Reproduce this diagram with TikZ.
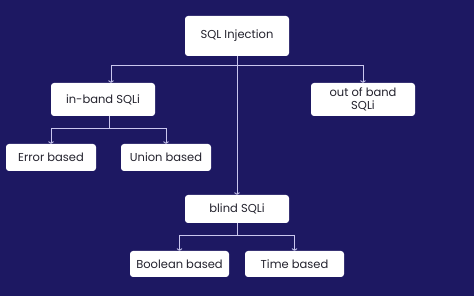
\documentclass[tikz,border=0pt]{standalone}
\usepackage{fontspec}
\setmainfont{Poppins}
\usetikzlibrary{arrows.meta}
\definecolor{sqbg}{HTML}{1D1862}
\definecolor{sqbox}{HTML}{FFFFFF}
\definecolor{sqink}{HTML}{24232E}
\definecolor{sqline}{HTML}{C9C6EE}
\tikzset{
  box/.style={rectangle,rounded corners=3pt,fill=sqbox,text=sqink,font=\fontsize{11.5}{13}\selectfont,align=center,inner sep=0pt},
  wide/.style={box,minimum width=104pt},
  small/.style={box,minimum width=90pt,minimum height=27pt},
  leaf/.style={box,minimum width=99pt,minimum height=26pt},
  link/.style={draw=sqline,line width=.9pt},
  arr/.style={link,-{To[length=2.5pt,width=5.5pt]}},
}

\begin{document}
\begin{tikzpicture}[x=1pt,y=-1pt]
  \fill[sqbg] (0,0) rectangle (474,296);
  \node[wide,minimum height=40pt] (root) at (237,36) {SQL Injection};
  \node[wide,minimum height=33pt] (inband) at (103,99.5) {in-band SQLi};
  \node[wide,minimum height=33pt] (outband) at (363,99.5) {out of band\\SQLi};
  \node[small] (error) at (51,157.5) {Error based};
  \node[small] (union) at (166,157.5) {Union based};
  \node[wide,minimum height=28pt] (blind) at (237,209) {blind SQLi};
  \node[leaf] (boolean) at (179.5,264) {Boolean based};
  \node[leaf] (time) at (294.5,264) {Time based};
  \coordinate (rootL) at (111,65);
  \coordinate (rootR) at (363,65);
  \coordinate (ibstem) at (109,128);
  \coordinate (ibL) at (51,128);
  \coordinate (ibR) at (166,128);
  \coordinate (blL) at (179.5,235);
  \coordinate (blR) at (294.5,235);
  \draw[arr] (root) -- (blind);
  \draw[link] (rootL) -- (rootR);
  \draw[arr] (rootL) -- (rootL |- inband.north);
  \draw[arr] (rootR) -- (outband);
  \draw[link] (ibstem |- inband.south) -- (ibstem);
  \draw[link] (ibL) -- (ibR);
  \draw[arr] (ibL) -- (error);
  \draw[arr] (ibR) -- (union);
  \draw[link] (blind) -- (blind.south |- blL);
  \draw[link] (blL) -- (blR);
  \draw[arr] (blL) -- (boolean);
  \draw[arr] (blR) -- (time);
\end{tikzpicture}
\end{document}
